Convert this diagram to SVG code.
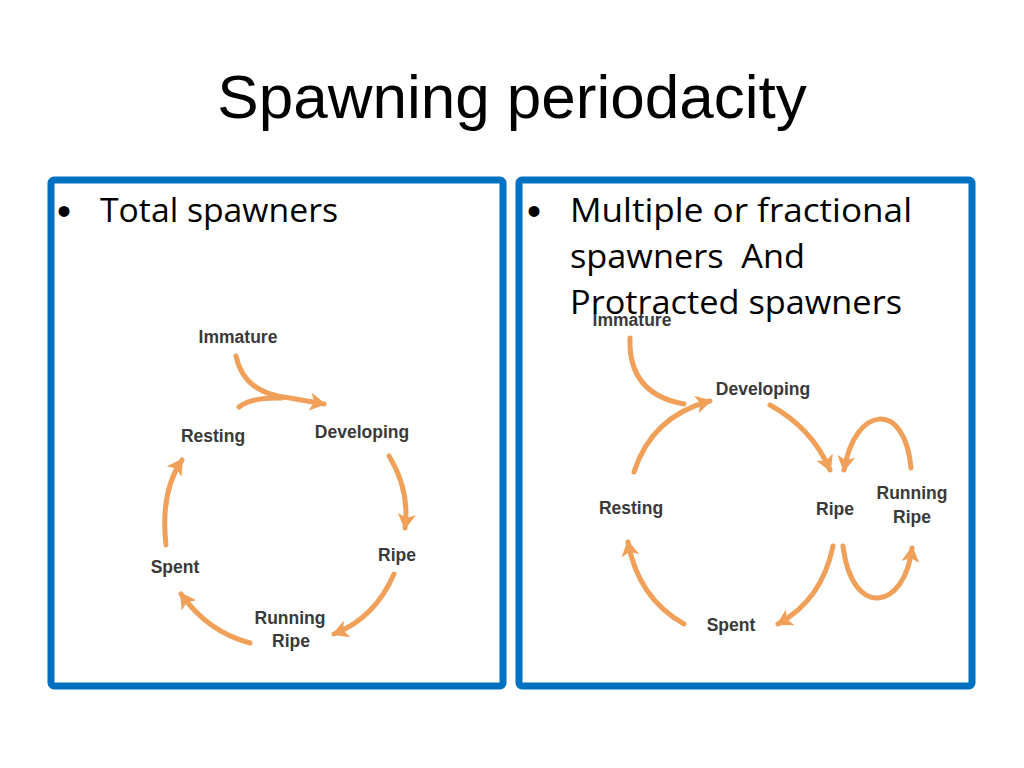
<svg xmlns="http://www.w3.org/2000/svg" width="1024" height="768" viewBox="0 0 1024 768">
<defs>
<marker id="ah" markerUnits="userSpaceOnUse" markerWidth="20" markerHeight="20" refX="14" refY="9" orient="auto">
<path d="M0,0 L16,9 L0,18 L4,9 Z" fill="#F0A058"/>
</marker>
<style>
.box{fill:#fff;stroke:#0070C0;stroke-width:7}
.bul{font-family:"Open Sans","Liberation Sans",sans-serif;font-size:33px;fill:#000}
.dot{font-family:"Liberation Sans",Arial,sans-serif;font-size:40px;fill:#000}
.lbl{font-family:"Liberation Sans",Arial,sans-serif;font-size:17.5px;font-weight:bold;fill:#3a3a3a;text-anchor:middle}
.arr{fill:none;stroke:#F0A058;stroke-width:5;stroke-linecap:round}
</style>
</defs>
<rect width="1024" height="768" fill="#fff"/>
<text x="512" y="118" font-family="Liberation Sans,Arial,sans-serif" font-size="62" text-anchor="middle" fill="#000">Spawning periodacity</text>
<g id="left-panel">
<rect class="box" x="51" y="180" width="452" height="506" rx="3"/>
<text class="dot" x="57" y="225">•</text>
<text class="bul" x="100" y="222" textLength="238" lengthAdjust="spacingAndGlyphs">Total spawners</text>
</g>
<g id="right-panel">
<rect class="box" x="519" y="180" width="453" height="506" rx="3"/>
<text class="dot" x="527" y="225">•</text>
<text class="bul" x="570" y="222" textLength="342" lengthAdjust="spacingAndGlyphs">Multiple or fractional</text>
<text class="bul" x="570" y="268" textLength="235" lengthAdjust="spacingAndGlyphs" xml:space="preserve">spawners  And</text>
</g>
<g id="connectors">
<path class="arr" d="M236,356 Q244,394 290,398 L324,404" marker-end="url(#ah)"/>
<path class="arr" d="M239,407 Q252,397 282,398"/>
<path class="arr" d="M389,456 Q410,490 405,528" marker-end="url(#ah)"/>
<path class="arr" d="M394,574 Q375,618 334,634" marker-end="url(#ah)"/>
<path class="arr" d="M250,643 Q208,632 181,594" marker-end="url(#ah)"/>
<path class="arr" d="M166,545 Q160,492 182,460" marker-end="url(#ah)"/>
<path class="arr" d="M630,338 Q628,394 684,404"/>
<path class="arr" d="M634,472 Q652,416 710,401" marker-end="url(#ah)"/>
<path class="arr" d="M770,405 Q812,428 830,470" marker-end="url(#ah)"/>
<path class="arr" d="M911,468 C905,400 855,405 844,470" marker-end="url(#ah)"/>
<path class="arr" d="M833,546 Q822,600 778,624" marker-end="url(#ah)"/>
<path class="arr" d="M843,546 C852,620 905,610 912,548" marker-end="url(#ah)"/>
<path class="arr" d="M684,624 Q638,598 628,542" marker-end="url(#ah)"/>
</g>
<g id="l-immature"><text class="lbl" x="238" y="343">Immature</text></g>
<g id="l-developing"><text class="lbl" x="362" y="438">Developing</text></g>
<g id="l-resting"><text class="lbl" x="213" y="442">Resting</text></g>
<g id="l-ripe"><text class="lbl" x="397" y="561">Ripe</text></g>
<g id="l-spent"><text class="lbl" x="175" y="573">Spent</text></g>
<g id="l-running"><text class="lbl" x="290" y="624">Running</text><text class="lbl" x="291" y="647">Ripe</text></g>
<g id="r-immature"><text class="lbl" x="632" y="326" font-size="15">Immature</text></g>
<g id="r-developing"><text class="lbl" x="763" y="395">Developing</text></g>
<g id="r-resting"><text class="lbl" x="631" y="514">Resting</text></g>
<g id="r-ripe"><text class="lbl" x="835" y="515">Ripe</text></g>
<g id="r-running"><text class="lbl" x="912" y="499">Running</text><text class="lbl" x="912" y="523">Ripe</text></g>
<g id="r-spent"><text class="lbl" x="731" y="631">Spent</text></g>
<text class="bul" x="570" y="314" textLength="332" lengthAdjust="spacingAndGlyphs">Protracted spawners</text>
</svg>
